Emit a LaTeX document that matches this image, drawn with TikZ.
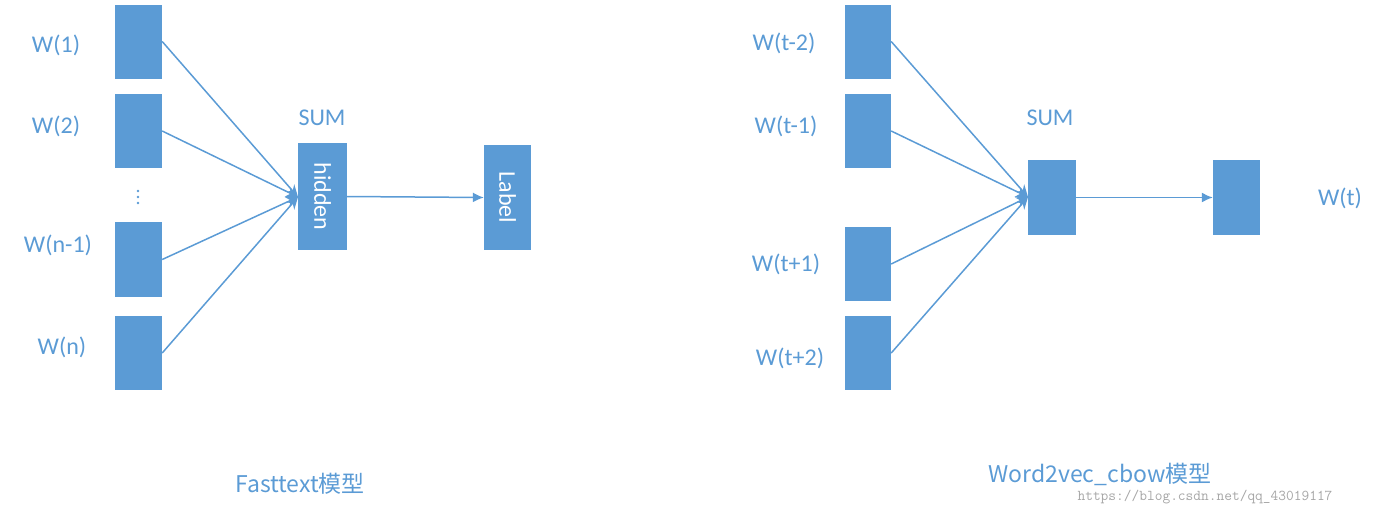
\documentclass[tikz,border=0pt]{standalone}
\usepackage{fontspec}
\setmainfont{Carlito}
\newfontfamily\cjk{Noto Sans CJK SC}
\usetikzlibrary{arrows.meta}
\definecolor{bl}{HTML}{5B9BD5}
\begin{document}
\begin{tikzpicture}[x=1pt,y=-1pt,
 box/.style={fill=bl,draw=none,inner sep=0},
 lab/.style={text=bl,font=\fontsize{24}{26}\selectfont},
 ln/.style={draw=bl,line width=1.5pt},
 ar/.style={ln,-{Stealth[length=12pt,width=11pt]}},
 ar2/.style={ln,-{Latex[length=11pt,width=10pt]}}]
\useasboundingbox (0,0) rectangle (1386,517);
% left
\node[box,minimum width=47,minimum height=74] (a1) at (138.5,41.5) {};
\node[box,minimum width=47,minimum height=74] (a2) at (138.5,131) {};
\node[box,minimum width=47,minimum height=75] (a3) at (138.5,259.5) {};
\node[box,minimum width=47,minimum height=74] (a4) at (138.5,353) {};
\node[box,minimum width=49,minimum height=107] (h) at (322.5,196.5) {};
\node[rotate=-90,text=white,font=\fontsize{24}{26}\selectfont] at (h) {hidden};
\node[box,minimum width=47,minimum height=105] (lb) at (507.5,197.5) {};
\node[rotate=-90,text=white,font=\fontsize{24}{26}\selectfont] at (lb) {Label};
\coordinate (hin) at (298,197);
\node[lab] at (56,45) {W(1)};
\node[lab] at (56,126) {W(2)};
\foreach \yy in {191,197,203} \fill[bl] (138,\yy) circle (1.3);
\node[lab] at (58,245) {W(n-1)};
\node[lab] at (62,347) {W(n)};
\node[lab] at (322,118) {SUM};
\foreach \b in {a1,a2,a3,a4} \draw[ar] (\b.east) -- (hin);
\draw[ar2] (h.east) -- (lb.west);
\node[text=bl,font=\cjk\fontsize{23}{26}\selectfont] at (300,484) {Fasttext模型};
% right
\node[box,minimum width=46,minimum height=74] (b1) at (868,41.5) {};
\node[box,minimum width=46,minimum height=74] (b2) at (868,131) {};
\node[box,minimum width=46,minimum height=74] (b3) at (868,264) {};
\node[box,minimum width=46,minimum height=74] (b4) at (868,353) {};
\node[box,minimum width=48,minimum height=75] (s) at (1052,197.5) {};
\node[box,minimum width=47,minimum height=75] (o) at (1236.5,197.5) {};
\coordinate (sin) at (1028,197);
\node[lab] at (784,43) {W(t-2)};
\node[lab] at (786,126) {W(t-1)};
\node[lab] at (786,264) {W(t+1)};
\node[lab] at (790,358) {W(t+2)};
\node[lab] at (1050,118) {SUM};
\node[lab] at (1340,198) {W(t)};
\foreach \b in {b1,b2,b3,b4} \draw[ar] (\b.east) -- (sin);
\draw[ar2] (s.east) -- (o.west);
\node[text=bl,font=\cjk\fontsize{23}{26}\selectfont] at (1100,474) {Word2vec\_cbow模型};
\node[text=gray!70,font=\ttfamily\fontsize{15}{17}\selectfont] at (1205,497) {https://blog.csdn.net/qq\_43019117};
\end{tikzpicture}
\end{document}
